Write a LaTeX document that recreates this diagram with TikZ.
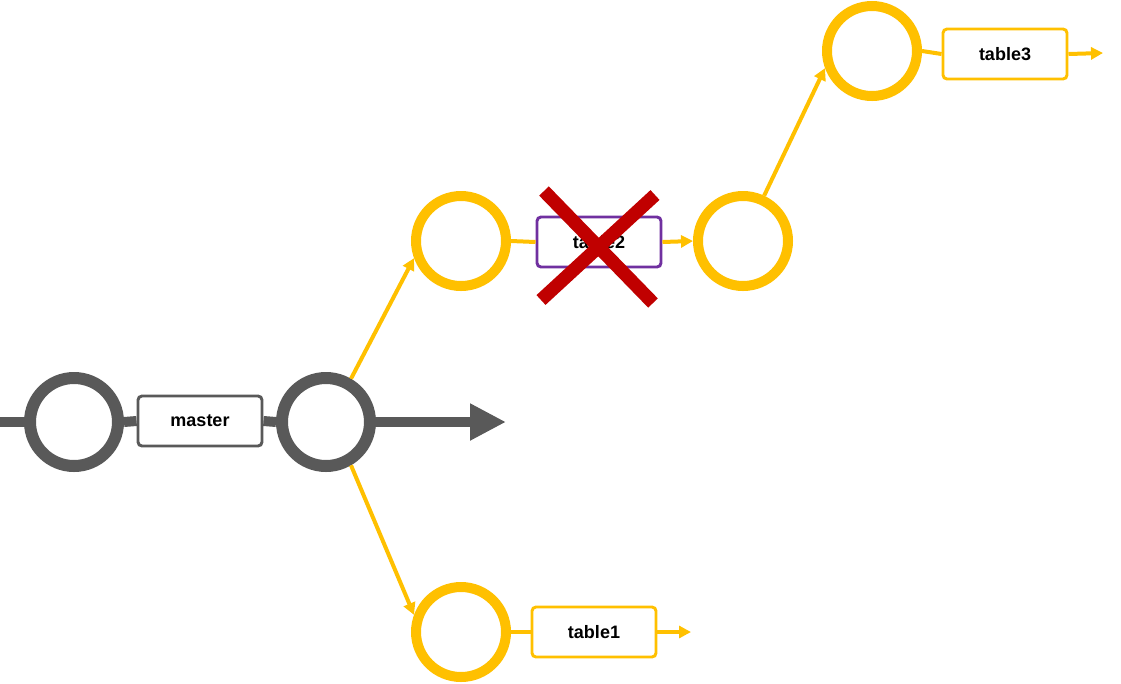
\documentclass[tikz,border=0pt]{standalone}
\usepackage{fontspec}
\setmainfont{Liberation Sans}
\usetikzlibrary{arrows.meta}
\definecolor{yel}{HTML}{FFC000}
\definecolor{gry}{HTML}{595959}
\definecolor{pur}{HTML}{7030A0}
\definecolor{xred}{HTML}{C00000}
\begin{document}
\begin{tikzpicture}[x=0.75pt,y=-0.75pt,
  gcirc/.style={circle,draw=gry,line width=9pt,minimum size=88*0.75pt,inner sep=0pt},
  ycirc/.style={circle,draw=yel,line width=7.5pt,minimum size=90*0.75pt,inner sep=0pt},
  lbl/.style={draw,rounded corners=3pt,line width=2.2pt,minimum width=124*0.75pt,minimum height=50*0.75pt,font=\bfseries\fontsize{13.5}{15}\selectfont,fill=white},
  yline/.style={draw=yel,line width=3pt},
  yarr/.style={yline,-{Triangle[length=9pt,width=9pt]}}]
\useasboundingbox (0,0) rectangle (1121,683);
\coordinate (s) at (0,422);
\node[gcirc] (g1) at (74,422) {};
\node[lbl,draw=gry] (m) at (200,421) {master};
\node[gcirc] (g2) at (326,422) {};
\coordinate (ge) at (506,422);
\draw[gry,line width=7.5pt] (s) -- (g1.west);
\draw[gry,line width=7.5pt] (g1.east) -- (m.west) (m.east) -- (g2.west);
\draw[gry,line width=7.5pt,-{Triangle[length=27pt,width=26pt]}] (g2.east) -- (ge);
\node[ycirc] (y1) at (461,241) {};
\node[ycirc] (y2) at (461,632) {};
\node[ycirc] (y3) at (743,241) {};
\node[ycirc] (y4) at (872,51) {};
\node[lbl,draw=pur] (t2) at (599,242) {table2};
\node[lbl,draw=yel] (t1) at (594,632) {table1};
\node[lbl,draw=yel] (t3) at (1005,54) {table3};
\coordinate (e1) at (691,632);
\coordinate (e3) at (1103,53);
\draw[yarr] (g2.60) -- (y1.200);
\draw[yarr] (g2.-60) -- (y2.160);
\draw[yline] (y1.east) -- (t2.west);
\draw[yarr] (t2.east) -- (y3.west);
\draw[yarr] (y3.65) -- (y4.200);
\draw[yline] (y2.east) -- (t1.west);
\draw[yarr] (t1.east) -- (e1);
\draw[yline] (y4.east) -- (t3.west);
\draw[yarr] (t3.east) -- (e3);
\coordinate (xa) at (544,191);
\coordinate (xb) at (653,303);
\coordinate (xc) at (655,195);
\coordinate (xd) at (541,300);
\draw[xred,line width=10pt] (xa) -- (xb) (xc) -- (xd);
\end{tikzpicture}
\end{document}
